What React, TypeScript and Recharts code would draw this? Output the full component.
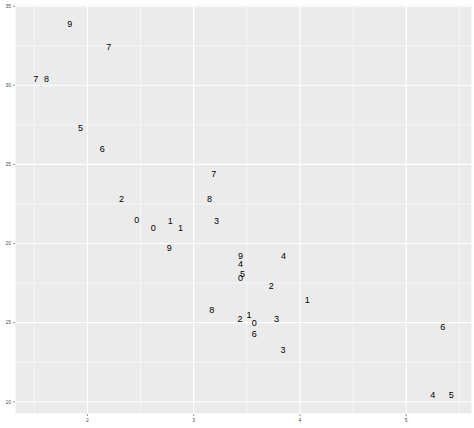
import { ScatterChart, Scatter, XAxis, YAxis, CartesianGrid, ReferenceLine } from 'recharts';

// car weight (1000 lbs) vs miles per gallon, labelled with a single digit
const wt = [
  2.62, 2.875, 2.32, 3.215, 3.44, 3.46, 3.57, 3.19, 3.15, 3.44, 3.44, 4.07, 3.73, 3.78, 5.25, 5.424,
  5.345, 2.2, 1.615, 1.835, 2.465, 3.52, 3.435, 3.84, 3.845, 1.935, 2.14, 1.513, 3.17, 2.77, 3.57, 2.78,
];
const mpg = [
  21.0, 21.0, 22.8, 21.4, 18.7, 18.1, 14.3, 24.4, 22.8, 19.2, 17.8, 16.4, 17.3, 15.2, 10.4, 10.4,
  14.7, 32.4, 30.4, 33.9, 21.5, 15.5, 15.2, 13.3, 19.2, 27.3, 26.0, 30.4, 15.8, 19.7, 15.0, 21.4,
];
const labels = [
  '0', '1', '2', '3', '4', '5', '6', '7', '8', '9', '0', '1', '2', '3', '4', '5',
  '6', '7', '8', '9', '0', '1', '2', '3', '4', '5', '6', '7', '8', '9', '0', '1',
];

const xTicks = [2, 3, 4, 5];
const yTicks = [10, 15, 20, 25, 30, 35];
const xMinor = [1.5, 2.5, 3.5, 4.5, 5.5];
const yMinor = [12.5, 17.5, 22.5, 27.5, 32.5];

const data = wt.map((w, i) => ({ wt: w, mpg: mpg[i], label: labels[i] }));

const LabelShape = (props: any) => {
  const { cx, cy, payload } = props;
  return (
    <text
      x={cx}
      y={cy}
      textAnchor="middle"
      dominantBaseline="central"
      fontSize={9}
      fontFamily="Liberation Sans, Arial, sans-serif"
      fill="#000"
    >
      {payload.label}
    </text>
  );
};

const tickStyle = { fontSize: 5, fill: '#4D4D4D', fontFamily: 'Liberation Sans, Arial, sans-serif' };

export default function App() {
  return (
    <div style={{ position: 'absolute', left: 0, top: 0, background: '#fff' }}>
      <ScatterChart width={474} height={428} margin={{ top: 5, right: 2, bottom: 0, left: 0 }}>
        <CartesianGrid fill="#EBEBEB" stroke="#FFFFFF" strokeWidth={1.1} />
        {xMinor.map((v) => (
          <ReferenceLine key={'x' + v} x={v} stroke="#FFFFFF" strokeWidth={0.55} />
        ))}
        {yMinor.map((v) => (
          <ReferenceLine key={'y' + v} y={v} stroke="#FFFFFF" strokeWidth={0.55} />
        ))}
        <XAxis
          type="number"
          dataKey="wt"
          domain={[1.3185, 5.6195]}
          ticks={xTicks}
          allowDataOverflow
          axisLine={false}
          tickLine={{ stroke: '#333333', strokeWidth: 0.5 }}
          tickSize={2}
          tick={tickStyle}
          height={14}
        />
        <YAxis
          type="number"
          dataKey="mpg"
          domain={[9.225, 35.075]}
          ticks={yTicks}
          allowDataOverflow
          axisLine={false}
          tickLine={{ stroke: '#333333', strokeWidth: 0.5 }}
          tickSize={2}
          tick={tickStyle}
          width={15}
        />
        <Scatter data={data} shape={<LabelShape />} isAnimationActive={false} />
      </ScatterChart>
    </div>
  );
}
